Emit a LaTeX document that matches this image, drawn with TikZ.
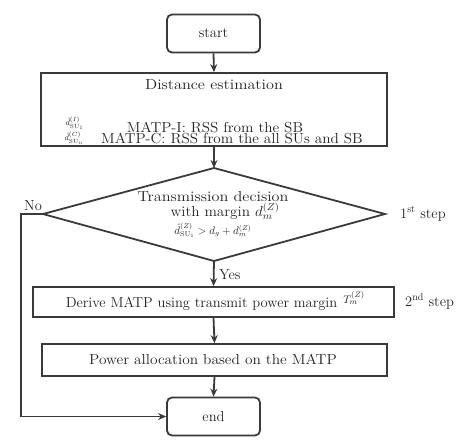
\documentclass[tikz,border=0pt]{standalone}
\usetikzlibrary{arrows.meta}
\definecolor{ln}{HTML}{3A3A3A}
\definecolor{tx}{HTML}{222222}
\begin{document}
\begin{tikzpicture}[x=1pt,y=-1pt,
  box/.style={draw=ln,line width=1.8pt,fill=white,minimum width=#1,inner sep=0pt},
  rbox/.style={draw=ln,line width=1.8pt,rounded corners=5pt,minimum width=93pt,minimum height=38pt,inner sep=0pt,font=\fontsize{14.5}{16}\selectfont},
  arr/.style={draw=ln,line width=1.8pt,-{Stealth[length=8pt,width=7pt]}},
  lbl/.style={text=tx,inner sep=0pt,text height=9pt,text depth=1pt,font=\fontsize{14.5}{16}\selectfont},
  wide/.style={xscale=#1,transform shape},
  sm/.style={text=tx,inner sep=0pt,font=\fontsize{8}{9}\selectfont}]
\useasboundingbox (0,0) rectangle (474,440);
% start
\node[rbox,text=tx] (start) at (213.5,33.5) {start};
% distance estimation
\node[box=346pt,minimum height=73pt] (dist) at (214,109.5) {};
\node[lbl,wide=1.12] (dtitle) at (214,85) {Distance estimation};
\node[lbl,wide=1.05] (mi) at (215,128) {MATP-I: RSS from the SB};
\node[lbl,wide=1.05] (mc) at (232,139.5) {MATP-C: RSS from the all SUs and SB};
\node[sm,anchor=east,text height=5pt,text depth=2pt] (di) at (84,124) {$\hat{d}^{(I)}_{\mathrm{SU}_1}$};
\node[sm,anchor=east,text height=5pt,text depth=2pt] (dc) at (84,139) {$\hat{d}^{(C)}_{\mathrm{SU}_n}$};
% diamond
\coordinate (dT) at (214,168);
\coordinate (dL) at (43,214);
\coordinate (dR) at (385,214);
\coordinate (dB) at (214,261);
\draw[ln,line width=1.8pt,line join=miter] (dT) -- (dR) -- (dB) -- (dL) -- cycle;
\node[lbl,wide=1.12] (t1) at (213,197) {Transmission decision};
\node[lbl,wide=1.05,text height=9pt,text depth=0pt] (t2) at (225,211.5) {with margin $d^{(Z)}_{m}$};
\node[sm,text height=6pt,text depth=2pt] (t3) at (213,232) {\fontsize{10.5}{12}\selectfont$\hat{d}^{(Z)}_{\mathrm{SU}_1} > d_g + d^{(Z)}_{m}$};
\node[lbl,anchor=west] (s1) at (400,214) {1$^{\mathrm{st}}$ step};
\node[lbl,anchor=south west] (no) at (24,212) {No};
% derive
\node[box=361pt,minimum height=30pt] (der) at (213.5,302) {};
\node[lbl] (dertext) at (201.5,303) {Derive MATP using transmit power margin};
\node[sm,text height=6pt,text depth=2pt] (tm) at (354,301) {\fontsize{11}{12}\selectfont$T^{(Z)}_{m}$};
\node[lbl,anchor=west] (s2) at (405,302) {2$^{\mathrm{nd}}$ step};
% power
\node[box=345pt,minimum height=32pt] (pow) at (214.5,360) {};
\node[lbl,wide=1.06] (powtext) at (213,360) {Power allocation based on the MATP};
% end
\node[rbox,text=tx] (end) at (213.5,416.5) {end};
% connectors
\draw[arr] (start.south) -- (dist.north);
\draw[arr] (dist.south) -- (dT);
\draw[arr] (dB) -- (der.north);
\node[lbl,anchor=west] (yes) at (219,275) {Yes};
\draw[arr] (der.south) -- (pow.north);
\draw[arr] (pow.south) -- (end.north);
\coordinate (nc1) at (21,214);
\coordinate (nc2) at (21,416.5);
\draw[arr,line join=miter] (dL) -- (nc1) -- (nc2) -- (end.west);
\end{tikzpicture}
\end{document}
